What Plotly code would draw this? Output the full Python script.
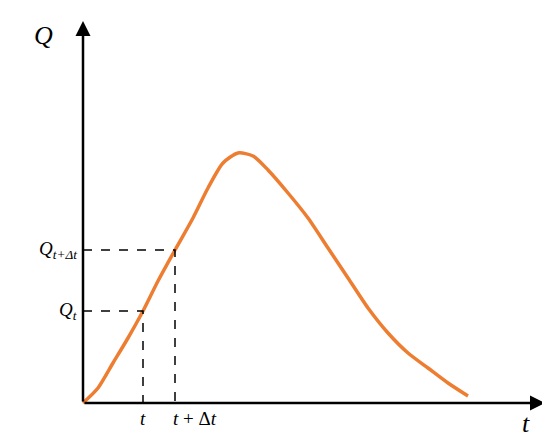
import plotly.graph_objects as go

# curve points (time, discharge) in chart units
t_vals = [0, 15, 30, 45, 60, 75, 92, 110, 125, 140, 155, 170, 185, 205, 225, 245, 265, 285, 305, 325, 345, 365, 385]
q_vals = [0, 15, 40, 65, 92, 122, 153, 185, 215, 240, 250, 247, 233, 210, 185, 155, 125, 95, 70, 50, 35, 20, 7]
t1, q1 = 60, 92
t2, q2 = 92, 153

fig = go.Figure()
fig.add_trace(go.Scatter(x=t_vals, y=q_vals, mode="lines", line=dict(color="#ED7D31", width=3.5, shape="spline", smoothing=0.7), hoverinfo="skip"))
for tt, qq in [(t1, q1), (t2, q2)]:
    fig.add_trace(go.Scatter(x=[0, tt, tt], y=[qq, qq, 0], mode="lines", line=dict(color="black", width=1.5, dash="dash"), hoverinfo="skip"))

ann = []
ann.append(dict(x=0, y=382, ax=0, ay=0, xref="x", yref="y", axref="x", ayref="y", showarrow=True, arrowhead=2, arrowsize=1.2, arrowwidth=2.5, arrowcolor="black", text=""))
ann.append(dict(x=462, y=0, ax=0, ay=0, xref="x", yref="y", axref="x", ayref="y", showarrow=True, arrowhead=2, arrowsize=1.2, arrowwidth=2.5, arrowcolor="black", text=""))
font = dict(family="Liberation Serif", color="black")
ann.append(dict(x=-40, y=368, text="<i>Q</i>", showarrow=False, xref="x", yref="y", font=dict(size=26, **font)))
ann.append(dict(x=443, y=-20, text="<i>t</i>", showarrow=False, xref="x", yref="y", font=dict(size=26, **font)))
ann.append(dict(x=-4, y=q1, text="<i>Q<sub>t</sub></i>", showarrow=False, xanchor="right", xref="x", yref="y", font=dict(size=19, **font)))
ann.append(dict(x=-4, y=q2, text="<i>Q<sub>t+Δt</sub></i>", showarrow=False, xanchor="right", xref="x", yref="y", font=dict(size=19, **font)))
ann.append(dict(x=t1, y=-15, text="<i>t</i>", showarrow=False, xref="x", yref="y", font=dict(size=19, **font)))
ann.append(dict(x=t2 - 4, y=-15, text="<i>t</i> + Δ<i>t</i>", showarrow=False, xanchor="left", xref="x", yref="y", font=dict(size=19, **font)))

fig.update_layout(width=550, height=436, margin=dict(l=0, r=0, t=0, b=0, pad=0, autoexpand=False),
                  plot_bgcolor="white", paper_bgcolor="white", showlegend=False, annotations=ann)
fig.update_xaxes(range=[-75, 475], visible=False)
fig.update_yaxes(range=[-41, 395], visible=False)
fig.write_html("out.html")
